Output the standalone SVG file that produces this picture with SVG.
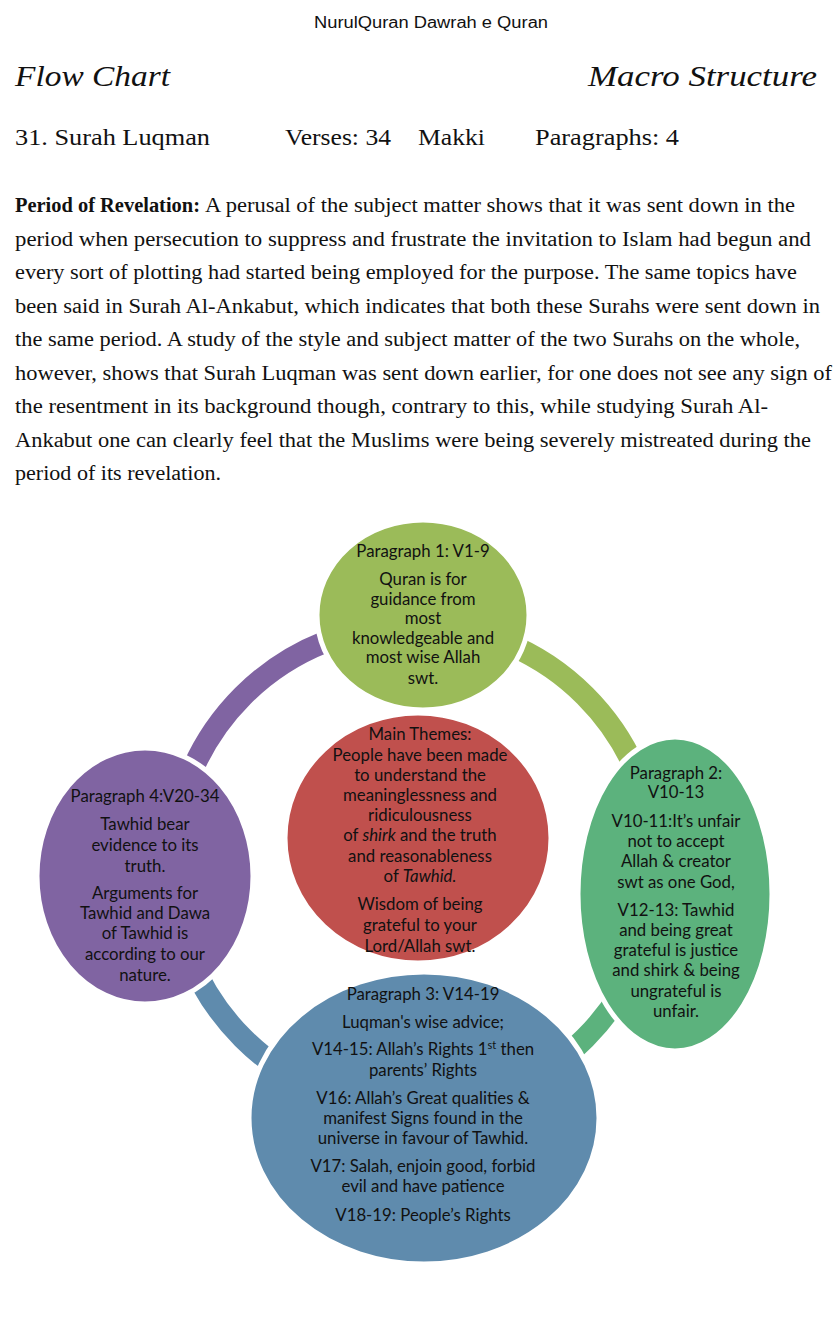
<svg xmlns="http://www.w3.org/2000/svg" width="835" height="1326" viewBox="0 0 835 1326">
<style>
.hdr{font-family:"Liberation Sans",Arial,sans-serif;font-size:16px;fill:#111}
.script{font-family:"Liberation Serif",serif;font-style:italic;font-size:30px;fill:#111}
.meta{font-family:"Liberation Serif",serif;font-size:23px;fill:#111}
.body{font-family:"Liberation Serif",serif;font-size:20px;fill:#111}
.bold{font-weight:bold}
.node{stroke:#fff;stroke-width:5}
.lbl{font-family:Lato,"Liberation Sans",sans-serif;font-size:16.8px;fill:#111;text-anchor:middle}
.arc{fill:none;stroke-width:22;stroke-linecap:butt}
</style>
<rect width="835" height="1326" fill="#fff"/>
<text class="hdr" x="314" y="28" textLength="234" lengthAdjust="spacingAndGlyphs">NurulQuran Dawrah e Quran</text>
<text class="script" x="15" y="86" textLength="155" lengthAdjust="spacingAndGlyphs">Flow Chart</text>
<text class="script" x="588" y="86" textLength="229" lengthAdjust="spacingAndGlyphs">Macro Structure</text>
<text class="meta" x="15" y="145" textLength="195" lengthAdjust="spacingAndGlyphs">31. Surah Luqman</text>
<text class="meta" x="285" y="145" textLength="106" lengthAdjust="spacingAndGlyphs">Verses: 34</text>
<text class="meta" x="418" y="145" textLength="67" lengthAdjust="spacingAndGlyphs">Makki</text>
<text class="meta" x="535" y="145" textLength="144" lengthAdjust="spacingAndGlyphs">Paragraphs: 4</text>
<g id="intro">
<text class="body bold" x="15" y="212" textLength="185" lengthAdjust="spacingAndGlyphs">Period of Revelation:</text>
<text class="body" x="205" y="212" textLength="590" lengthAdjust="spacingAndGlyphs">A perusal of the subject matter shows that it was sent down in the</text>
<text class="body" x="15" y="245.5" textLength="796" lengthAdjust="spacingAndGlyphs">period when persecution to suppress and frustrate the invitation to Islam had begun and</text>
<text class="body" x="15" y="279" textLength="782" lengthAdjust="spacingAndGlyphs">every sort of plotting had started being employed for the purpose. The same topics have</text>
<text class="body" x="15" y="312.5" textLength="805" lengthAdjust="spacingAndGlyphs">been said in Surah Al-Ankabut, which indicates that both these Surahs were sent down in</text>
<text class="body" x="15" y="346" textLength="785" lengthAdjust="spacingAndGlyphs">the same period. A study of the style and subject matter of the two Surahs on the whole,</text>
<text class="body" x="15" y="379.5" textLength="817" lengthAdjust="spacingAndGlyphs">however, shows that Surah Luqman was sent down earlier, for one does not see any sign of</text>
<text class="body" x="15" y="413" textLength="753" lengthAdjust="spacingAndGlyphs">the resentment in its background though, contrary to this, while studying Surah Al-</text>
<text class="body" x="15" y="446.5" textLength="796" lengthAdjust="spacingAndGlyphs">Ankabut one can clearly feel that the Muslims were being severely mistreated during the</text>
<text class="body" x="15" y="480" textLength="206" lengthAdjust="spacingAndGlyphs">period of its revelation.</text>
</g>
<g id="connectors">
<path class="arc" stroke="#8064a2" d="M172,867 A242,242 0 0 1 414,625"/>
<path class="arc" stroke="#9bbb59" d="M414,625 A242,242 0 0 1 656,867"/>
<path class="arc" stroke="#5cb27d" d="M656,867 A242,242 0 0 1 414,1109"/>
<path class="arc" stroke="#5f8bad" d="M414,1109 A242,242 0 0 1 172,867"/>
</g>
<g id="p1">
<ellipse class="node" cx="423" cy="615" rx="106" ry="95" fill="#9bbb59"/>
<text class="lbl" x="423" y="557">Paragraph 1: V1-9</text>
<text class="lbl" x="423" y="585">Quran is for</text>
<text class="lbl" x="423" y="605">guidance from</text>
<text class="lbl" x="423" y="624">most</text>
<text class="lbl" x="423" y="644">knowledgeable and</text>
<text class="lbl" x="423" y="663">most wise Allah</text>
<text class="lbl" x="423" y="684">swt.</text>
</g>
<g id="main">
<ellipse class="node" cx="418" cy="838" rx="133" ry="125" fill="#c0504d"/>
<text class="lbl" x="420" y="740">Main Themes:</text>
<text class="lbl" x="420" y="761">People have been made</text>
<text class="lbl" x="420" y="781">to understand the</text>
<text class="lbl" x="420" y="801">meaninglessness and</text>
<text class="lbl" x="420" y="821">ridiculousness</text>
<text class="lbl" x="420" y="841">of <tspan font-style="italic">shirk</tspan> and the truth</text>
<text class="lbl" x="420" y="862">and reasonableness</text>
<text class="lbl" x="420" y="882">of <tspan font-style="italic">Tawhid.</tspan></text>
<text class="lbl" x="420" y="910">Wisdom of being</text>
<text class="lbl" x="420" y="931">grateful to your</text>
<text class="lbl" x="420" y="952">Lord/Allah swt.</text>
</g>
<g id="p4">
<ellipse class="node" cx="145" cy="876" rx="108" ry="128" fill="#8064a2"/>
<text class="lbl" x="145" y="802">Paragraph 4:V20-34</text>
<text class="lbl" x="145" y="830">Tawhid bear</text>
<text class="lbl" x="145" y="851">evidence to its</text>
<text class="lbl" x="145" y="872">truth.</text>
<text class="lbl" x="145" y="899">Arguments for</text>
<text class="lbl" x="145" y="919">Tawhid and Dawa</text>
<text class="lbl" x="145" y="939">of Tawhid is</text>
<text class="lbl" x="145" y="960">according to our</text>
<text class="lbl" x="145" y="981">nature.</text>
</g>
<g id="p2">
<ellipse class="node" cx="675" cy="894" rx="97" ry="157" fill="#5cb27d"/>
<text class="lbl" x="676" y="779">Paragraph 2:</text>
<text class="lbl" x="676" y="798">V10-13</text>
<text class="lbl" x="676" y="827">V10-11:It’s unfair</text>
<text class="lbl" x="676" y="847">not to accept</text>
<text class="lbl" x="676" y="867">Allah &amp; creator</text>
<text class="lbl" x="676" y="888">swt as one God,</text>
<text class="lbl" x="676" y="916">V12-13: Tawhid</text>
<text class="lbl" x="676" y="936">and being great</text>
<text class="lbl" x="676" y="956">grateful is justice</text>
<text class="lbl" x="676" y="976">and shirk &amp; being</text>
<text class="lbl" x="676" y="997">ungrateful is</text>
<text class="lbl" x="676" y="1017">unfair.</text>
</g>
<g id="p3">
<ellipse class="node" cx="424" cy="1118" rx="175" ry="146" fill="#5f8bad"/>
<text class="lbl" x="423" y="1000">Paragraph 3: V14-19</text>
<text class="lbl" x="423" y="1028">Luqman's wise advice;</text>
<text class="lbl" x="423" y="1055">V14-15: Allah’s Rights 1<tspan font-size="11" dy="-6">st</tspan><tspan dy="6"> then</tspan></text>
<text class="lbl" x="423" y="1076">parents’ Rights</text>
<text class="lbl" x="423" y="1104">V16: Allah’s Great qualities &amp;</text>
<text class="lbl" x="423" y="1124">manifest Signs found in the</text>
<text class="lbl" x="423" y="1144">universe in favour of Tawhid.</text>
<text class="lbl" x="423" y="1172">V17: Salah, enjoin good, forbid</text>
<text class="lbl" x="423" y="1192">evil and have patience</text>
<text class="lbl" x="423" y="1221">V18-19: People’s Rights</text>
</g>
</svg>
